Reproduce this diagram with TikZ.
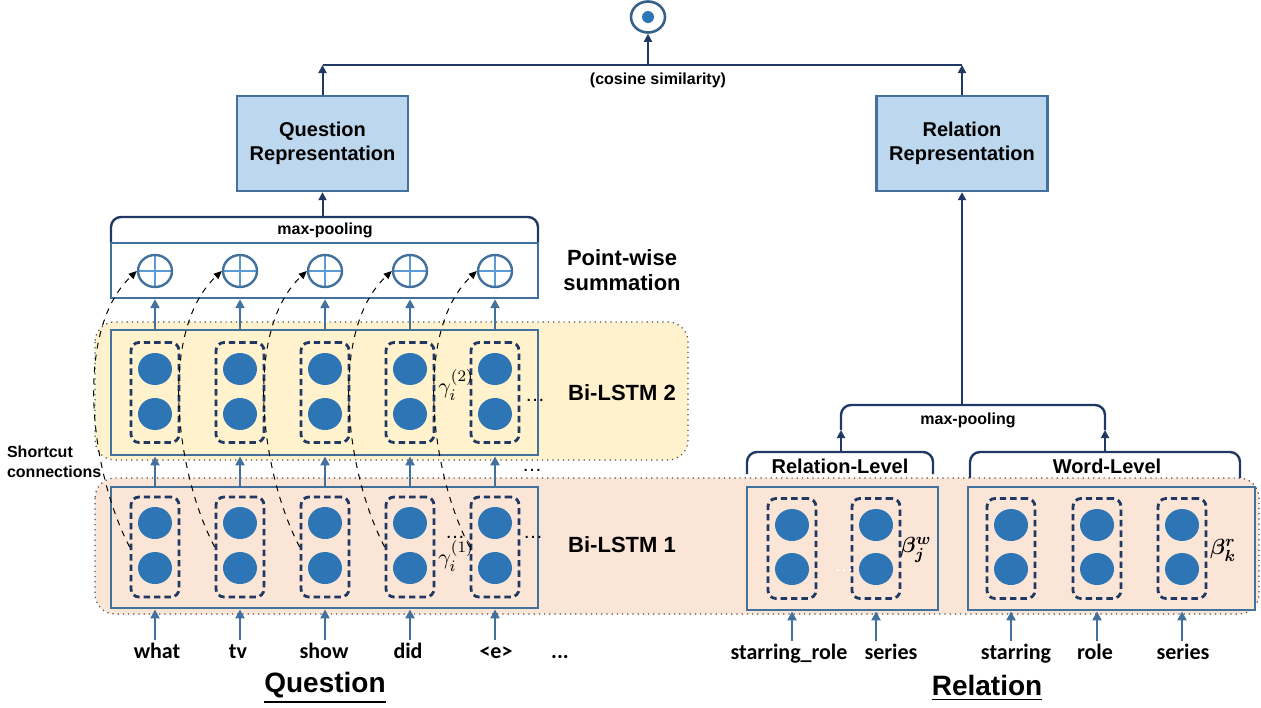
\documentclass[tikz,border=0pt]{standalone}
\usepackage{amsmath}
\usepackage[no-math]{fontspec}
\setmainfont{Liberation Sans}
\newfontfamily\wordfont{Carlito}
\usetikzlibrary{arrows.meta,shapes.geometric}

\definecolor{steel}{RGB}{65,113,156}
\definecolor{navy}{RGB}{32,56,100}
\definecolor{unitblue}{RGB}{46,117,182}
\definecolor{crossblue}{RGB}{91,155,213}
\definecolor{repblue}{RGB}{189,215,238}
\definecolor{lstmyellow}{RGB}{255,242,204}
\definecolor{lstmpink}{RGB}{251,229,214}

\begin{document}
\begin{tikzpicture}[x=0.5pt, y=-0.5pt,
    repbox/.style={draw=steel, fill=repblue, line width=1.2pt, minimum width=85.5pt,
        minimum height=47.5pt, align=center, font=\bfseries\fontsize{10}{12}\selectfont},
    region/.style={draw=black!70, dotted, line width=0.6pt, rounded corners=10pt},
    lstmbox/.style={draw=steel, line width=1.4pt, inner sep=0pt},
    cellbox/.style={draw=navy, dash pattern=on 3.2pt off 2pt, line width=1.4pt,
        rounded corners=4pt, minimum width=24pt, minimum height=50pt, inner sep=0pt},
    unit/.style={ellipse, fill=unitblue, minimum width=17pt, minimum height=16pt, inner sep=0pt},
    plus/.style={ellipse, draw=steel, fill=white, line width=1.2pt, minimum width=17pt,
        minimum height=16pt, inner sep=0pt,
        path picture={\draw[crossblue, line width=1.2pt]
            (path picture bounding box.north) -- (path picture bounding box.south)
            (path picture bounding box.west) -- (path picture bounding box.east);}},
    bracket/.style={draw=navy, line width=1.2pt, rounded corners=5pt},
    bluearrow/.style={draw=steel, line width=1.3pt, -{Triangle[length=4.5pt,width=4.5pt]}},
    navyarrow/.style={draw=navy, line width=1pt, -{Triangle[length=4pt,width=4pt]}},
    shortcut/.style={black, dashed, line width=0.5pt, -{Triangle[length=4pt,width=3.5pt]}},
    label/.style={font=\bfseries\fontsize{11}{12.5}\selectfont, align=center},
    pooltext/.style={font=\bfseries\fontsize{8}{10}\selectfont},
    leveltext/.style={font=\bfseries\fontsize{10}{12}\selectfont},
    wordlabel/.style={font=\wordfont\bfseries\fontsize{11}{13}\selectfont, inner sep=1pt,
        text height=8pt, text depth=2pt},
    title/.style={font=\bfseries\fontsize{14}{16}\selectfont},
    greek/.style={font=\fontsize{11}{13}\selectfont, inner sep=0pt}
]
    \useasboundingbox (0,0) rectangle (1261,707);

    % layer regions behind everything
    \path[region, fill=lstmyellow] (95,322) rectangle (688,460);
    \path[region, fill=lstmpink] (95,478) rectangle (1259,614);

    % similarity on top
    \node[ellipse, draw=steel!70!navy, line width=1.3pt, minimum width=17pt, minimum height=15.5pt, inner sep=0pt] (sim) at (648,17) {};
    \node[circle, fill=unitblue, minimum size=6pt, inner sep=0pt] (simdot) at (sim.center) {};
    \node[repbox] (qrep) at (322.5,143.5) {Question\\Representation};
    \node[repbox] (rrep) at (962,143.5) {Relation\\Representation};
    \coordinate (cosL) at (322.5,65);
    \coordinate (cosR) at (962,65);
    \coordinate (cosM) at (648,65);
    \draw[navyarrow] (qrep.north) -- (cosL);
    \draw[navyarrow] (rrep.north) -- (cosR);
    \draw[draw=navy, line width=1pt] (cosL) -- (cosR);
    \draw[navyarrow] (cosM) -- (sim.south);
    \node[font=\bfseries\fontsize{8}{10}\selectfont] (cosine) at (658,80) {(cosine similarity)};

    % question side: pooling and summation
    \draw[bracket] (111,243) -- (111,217) -- (538,217) -- (538,243);
    \node[pooltext] (qpool) at (325,230) {max-pooling};
    \coordinate (qpooltop) at (322.5,217);
    \draw[navyarrow] (qpooltop) -- (qrep.south);
    \node[draw=steel, line width=1.2pt, fill=white, minimum width=213.5pt, minimum height=27.5pt] (sum) at (324.5,270.5) {};
    \node[label] (sumtext) at (622,270) {Point-wise\\summation};

    % Bi-LSTM 2
    \node[lstmbox, minimum width=213.5pt, minimum height=62.5pt] (lstm2) at (324.5,392.5) {};
    \node[label] (lstm2text) at (622,393) {Bi-LSTM 2};

    % Bi-LSTM 1
    \node[lstmbox, minimum width=213.5pt, minimum height=60.5pt] (lstm1) at (324.5,547.5) {};
    \node[label] (lstm1text) at (622,545) {Bi-LSTM 1};

    \foreach \x [count=\i] in {155,240,325,410,495} {
        \node[plus] (p\i) at (\x,271) {};
        \node[cellbox] (c2\i) at (\x,392.5) {};
        \node[unit] (c2\i-t) at (\x,369) {};
        \node[unit] (c2\i-b) at (\x,414) {};
        \node[cellbox] (c1\i) at (\x,547) {};
        \node[unit] (c1\i-t) at (\x,523) {};
        \node[unit] (c1\i-b) at (\x,568) {};
        \draw[bluearrow] (lstm2.north -| c2\i) -- (sum.south -| c2\i);
        \draw[bluearrow] (lstm1.north -| c1\i) -- (lstm2.south -| c1\i);
    }

    % question words
    \foreach \x/\w [count=\i] in {157/what,238/tv,324/show,408/did,496/{<e>}} {
        \node[wordlabel] (w\i) at (\x,652) {\w};
        \draw[bluearrow] (w\i.north -| c1\i) -- (lstm1.south -| c1\i);
    }
    \node[wordlabel] (wdots) at (560,652) {...};

    % shortcut connections
    \foreach \i in {1,...,5} {
        \draw[shortcut] (c1\i.west) .. controls +(-40,-77) and +(-63,59) .. (p\i.west);
    }
    \node[pooltext, anchor=west, align=left] (shortcuttext) at (0,462) {Shortcut\\connections};

    % gamma labels and dots
    \node[greek] (g2) at (456,385) {$\gamma_i^{(2)}$};
    \node[greek] (g1) at (456,556) {$\gamma_i^{(1)}$};
    \node[inner sep=0pt] (g1dots) at (455,537) {\dots};
    \node[inner sep=0pt] (l2dots) at (535,400) {\dots};
    \node[inner sep=0pt] (l1dots) at (533,537) {\dots};
    \node[inner sep=0pt] (middots) at (532,470) {\dots};
    \node[title] (qtitle) at (325,688) {\underline{Question}};

    % relation side: pooling
    \draw[bracket] (841,430) -- (841,405) -- (1105,405) -- (1105,430);
    \node[pooltext] (rpool) at (968,420) {max-pooling};
    \coordinate (rpooltop) at (962,405);
    \draw[navyarrow] (rpooltop) -- (rrep.south);
    \draw[bracket] (747,474) -- (747,452) -- (933,452) -- (933,474);
    \node[leveltext] (reltext) at (840,466) {Relation-Level};
    \draw[bracket] (970,478) -- (970,452) -- (1240,452) -- (1240,478);
    \node[leveltext] (wordtext) at (1107,466) {Word-Level};
    \coordinate (relup) at (841,452);
    \coordinate (relin) at (841,430);
    \coordinate (wordup) at (1105,452);
    \coordinate (wordin) at (1105,430);
    \draw[navyarrow] (relup) -- (relin);
    \draw[navyarrow] (wordup) -- (wordin);

    % relation-level and word-level encoders
    \node[lstmbox, minimum width=95.5pt, minimum height=61.5pt] (relbox) at (842.5,548.5) {};
    \node[lstmbox, minimum width=143.5pt, minimum height=61.5pt] (wordbox) at (1111.5,548.5) {};
    \foreach \x [count=\i] in {792,876} {
        \node[cellbox] (r\i) at (\x,548.5) {};
        \node[unit] (r\i-t) at (\x,525) {};
        \node[unit] (r\i-b) at (\x,569) {};
    }
    \foreach \x [count=\i] in {1011,1097,1182} {
        \node[cellbox] (k\i) at (\x,548.5) {};
        \node[unit] (k\i-t) at (\x,525) {};
        \node[unit] (k\i-b) at (\x,569) {};
    }
    \node[inner sep=0pt, text=white] (reldots) at (844,570) {\dots};
    \node[greek] (bw) at (916,550) {$\boldsymbol{\beta_j^w}$};
    \node[greek] (br) at (1223,550) {$\boldsymbol{\beta_k^r}$};

    % relation words
    \node[wordlabel] (rw1) at (789,653) {starring\_role};
    \node[wordlabel] (rw2) at (891,653) {series};
    \node[wordlabel] (kw1) at (1016,653) {starring};
    \node[wordlabel] (kw2) at (1095,653) {role};
    \node[wordlabel] (kw3) at (1183,653) {series};
    \draw[bluearrow] (rw1.north -| r1) -- (relbox.south -| r1);
    \draw[bluearrow] (rw2.north -| r2) -- (relbox.south -| r2);
    \draw[bluearrow] (kw1.north -| k1) -- (wordbox.south -| k1);
    \draw[bluearrow] (kw2.north -| k2) -- (wordbox.south -| k2);
    \draw[bluearrow] (kw3.north -| k3) -- (wordbox.south -| k3);
    \node[title] (rtitle) at (987,688) {\underline{Relation}};
\end{tikzpicture}
\end{document}
